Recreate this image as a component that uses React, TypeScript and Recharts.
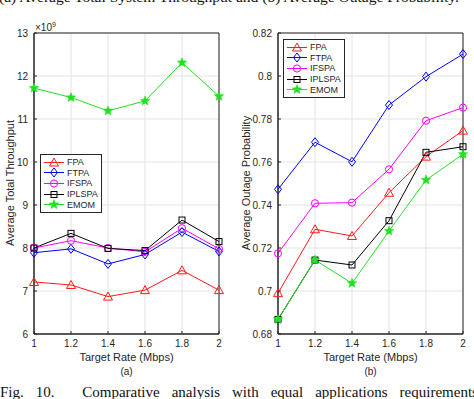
import {
  LineChart,
  Line,
  XAxis,
  YAxis,
  CartesianGrid,
  ReferenceArea,
  Legend,
} from "recharts";

const rates = [1, 1.2, 1.4, 1.6, 1.8, 2];
const rateTicks = [1, 1.2, 1.4, 1.6, 1.8, 2];

// (a) average total throughput, in units of 10^9
const tpFPA = [7.21, 7.14, 6.87, 7.02, 7.48, 7.02];
const tpFTPA = [7.89, 7.98, 7.63, 7.85, 8.37, 7.92];
const tpIFSPA = [8.0, 8.17, 8.0, 7.91, 8.46, 7.98];
const tpIPLSPA = [8.0, 8.34, 7.99, 7.94, 8.65, 8.15];
const tpEMOM = [11.72, 11.5, 11.19, 11.42, 12.31, 11.53];
const tpTicks = [6, 7, 8, 9, 10, 11, 12, 13];

// (b) average outage probability
const opFPA = [0.699, 0.7287, 0.7256, 0.7457, 0.7625, 0.7746];
const opFTPA = [0.7473, 0.7692, 0.7601, 0.7865, 0.7997, 0.8102];
const opIFSPA = [0.7175, 0.7408, 0.7411, 0.7566, 0.7792, 0.7853];
const opIPLSPA = [0.6868, 0.7144, 0.7121, 0.7327, 0.7645, 0.7671];
const opEMOM = [0.6868, 0.7144, 0.7036, 0.7279, 0.7516, 0.7636];
const opTicks = [0.68, 0.7, 0.72, 0.74, 0.76, 0.78, 0.8, 0.82];

const names = ["FPA", "FTPA", "IFSPA", "IPLSPA", "EMOM"];
const colors: Record<string, string> = {
  FPA: "#ff1a1a",
  FTPA: "#0000ff",
  IFSPA: "#ff00ff",
  IPLSPA: "#000000",
  EMOM: "#22e022",
};
const markers: Record<string, string> = {
  FPA: "tri",
  FTPA: "dia",
  IFSPA: "circ",
  IPLSPA: "sq",
  EMOM: "star",
};

const FONT = "'Liberation Sans', Arial, sans-serif";
const SERIF = "'Liberation Serif', 'Times New Roman', serif";
const INK = "#262626";

const tpData = rates.map((r, i) => ({
  rate: r,
  FPA: tpFPA[i],
  FTPA: tpFTPA[i],
  IFSPA: tpIFSPA[i],
  IPLSPA: tpIPLSPA[i],
  EMOM: tpEMOM[i],
}));

const opData = rates.map((r, i) => ({
  rate: r,
  FPA: opFPA[i],
  FTPA: opFTPA[i],
  IFSPA: opIFSPA[i],
  IPLSPA: opIPLSPA[i],
  EMOM: opEMOM[i],
}));

function starPoints(cx: number, cy: number, ro: number, ri: number) {
  const pts: string[] = [];
  for (let k = 0; k < 10; k++) {
    const r = k % 2 === 0 ? ro : ri;
    const a = -Math.PI / 2 + (k * Math.PI) / 5;
    pts.push(`${cx + r * Math.cos(a)},${cy + r * Math.sin(a)}`);
  }
  return pts.join(" ");
}

function Marker({ kind, cx, cy, color }: { kind: string; cx: number; cy: number; color: string }) {
  switch (kind) {
    case "tri":
      return (
        <polygon
          points={`${cx},${cy - 4.5} ${cx - 4.5},${cy + 3.5} ${cx + 4.5},${cy + 3.5}`}
          fill="none"
          stroke={color}
        />
      );
    case "dia":
      return (
        <polygon
          points={`${cx},${cy - 4.5} ${cx - 3.5},${cy} ${cx},${cy + 4.5} ${cx + 3.5},${cy}`}
          fill="none"
          stroke={color}
        />
      );
    case "circ":
      return <circle cx={cx} cy={cy} r={3.6} fill="none" stroke={color} />;
    case "sq":
      return <rect x={cx - 3} y={cy - 3} width={6} height={6} fill="none" stroke={color} />;
    default:
      return <polygon points={starPoints(cx, cy, 5, 2.2)} fill={color} stroke={color} strokeWidth={0.5} />;
  }
}

// legend box in MATLAB style, always in series order
function LegendBox() {
  return (
    <div
      style={{
        border: `1px solid ${INK}`,
        background: "#fff",
        padding: "2px 3px 2px 2px",
        fontFamily: FONT,
        fontSize: 9,
        color: INK,
      }}
    >
      {names.map((n) => (
        <div key={n} style={{ display: "flex", alignItems: "center", height: 10.6 }}>
          <svg width={22} height={11} style={{ display: "block" }}>
            <line x1={1} y1={5.5} x2={21} y2={5.5} stroke={colors[n]} />
            <Marker kind={markers[n]} cx={11} cy={5.5} color={colors[n]} />
          </svg>
          <span style={{ marginLeft: 2 }}>{n}</span>
        </div>
      ))}
    </div>
  );
}

const tickStyle = { fill: INK, fontSize: 10, fontFamily: FONT };

function Panel({
  data,
  ticks,
  domain,
  left,
  legendLeft,
  legendTop,
  fmt,
}: {
  data: Record<string, number>[];
  ticks: number[];
  domain: [number, number];
  left: number;
  legendLeft: number;
  legendTop: number;
  fmt: (v: number) => string;
}) {
  return (
    <LineChart
      width={237}
      height={399}
      data={data}
      margin={{ top: 33, right: 237 - left - 185 - 30, bottom: 45, left }}
    >
      <CartesianGrid stroke="#e3e3e3" />
      <XAxis
        dataKey="rate"
        type="number"
        domain={[1, 2]}
        ticks={rateTicks}
        height={20}
        tick={tickStyle}
        tickSize={-3}
        tickMargin={9}
        stroke={INK}
        tickFormatter={(v: number) => String(v)}
      />
      <YAxis
        type="number"
        domain={domain}
        ticks={ticks}
        width={30}
        tick={tickStyle}
        tickSize={-3}
        tickMargin={9}
        stroke={INK}
        tickFormatter={fmt}
        allowDataOverflow
      />
      <ReferenceArea
        x1={1}
        x2={2}
        y1={domain[0]}
        y2={domain[1]}
        fill="none"
        fillOpacity={0}
        stroke={INK}
        strokeWidth={1}
      />
      <Legend
        layout="vertical"
        align="center"
        verticalAlign="middle"
        wrapperStyle={{ left: legendLeft, top: legendTop, width: "auto" }}
        content={<LegendBox />}
      />
      {names.map((n) => (
        <Line
          key={n}
          type="linear"
          dataKey={n}
          stroke={colors[n]}
          strokeWidth={1}
          isAnimationActive={false}
          dot={(p: any) => (
            <Marker key={`${n}-${p.index}`} kind={markers[n]} cx={p.cx} cy={p.cy} color={colors[n]} />
          )}
          activeDot={false}
        />
      ))}
    </LineChart>
  );
}

const abs = (x: number, y: number): React.CSSProperties => ({ position: "absolute", left: x, top: y });

export default function App() {
  return (
    <div
      style={{
        position: "absolute",
        left: 0,
        top: 0,
        width: 474,
        height: 399,
        overflow: "hidden",
        background: "#fff",
      }}
    >
      <div
        style={{
          ...abs(-1, -12),
          width: 476,
          fontFamily: SERIF,
          fontSize: 15.5,
          lineHeight: "18px",
          whiteSpace: "nowrap",
          color: "#111",
        }}
      >
        (a) Average Total System Throughput and (b) Average Outage Probability.
      </div>

      <div style={abs(0, 0)}>
        <Panel
          data={tpData}
          ticks={tpTicks}
          domain={[6, 13]}
          left={4}
          legendLeft={40}
          legendTop={154}
          fmt={(v) => String(v)}
        />
      </div>
      <div style={abs(237, 0)}>
        <Panel
          data={opData}
          ticks={opTicks}
          domain={[0.68, 0.82]}
          left={11}
          legendLeft={46}
          legendTop={39}
          fmt={(v) => String(Number(v.toFixed(2)))}
        />
      </div>

      <div style={{ ...abs(35, 21), fontFamily: FONT, fontSize: 10, color: INK }}>
        ×10<sup style={{ fontSize: 7, verticalAlign: "4px" }}>9</sup>
      </div>

      <div
        style={{
          ...abs(10 - 80, 183 - 7),
          width: 160,
          textAlign: "center",
          transform: "rotate(-90deg)",
          fontFamily: FONT,
          fontSize: 11,
          color: INK,
          lineHeight: "14px",
        }}
      >
        Average Total Throughput
      </div>
      <div
        style={{
          ...abs(246 - 80, 183 - 7),
          width: 160,
          textAlign: "center",
          transform: "rotate(-90deg)",
          fontFamily: FONT,
          fontSize: 11,
          color: INK,
          lineHeight: "14px",
        }}
      >
        Average Outage Probability
      </div>

      {[
        { cx: 126.5, label: "(a)" },
        { cx: 370.5, label: "(b)" },
      ].map((t) => (
        <div key={t.label}>
          <div
            style={{
              ...abs(t.cx - 70, 350),
              width: 140,
              textAlign: "center",
              fontFamily: FONT,
              fontSize: 11,
              color: INK,
              lineHeight: "14px",
            }}
          >
            Target Rate (Mbps)
          </div>
          <div
            style={{
              ...abs(t.cx - 20, 365),
              width: 40,
              textAlign: "center",
              fontFamily: FONT,
              fontSize: 10,
              color: INK,
              lineHeight: "14px",
            }}
          >
            {t.label}
          </div>
        </div>
      ))}

      <div
        style={{
          ...abs(0, 383),
          width: 478,
          fontFamily: SERIF,
          fontSize: 15,
          lineHeight: "18px",
          whiteSpace: "nowrap",
          display: "flex",
          justifyContent: "space-between",
          color: "#111",
        }}
      >
        {["Fig.", "10.", "\u00a0", "Comparative", "analysis", "with", "equal", "applications", "requirements"].map(
          (w, i) => (
            <span key={i}>{w}</span>
          )
        )}
      </div>
    </div>
  );
}
